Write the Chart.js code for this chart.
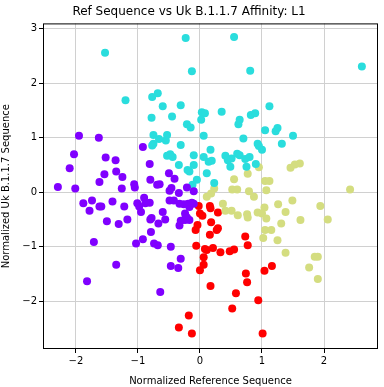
<!DOCTYPE html>
<html>
<head>
<meta charset="utf-8">
<script src="https://cdn.jsdelivr.net/npm/chart.js@4"></script>
<style>
  html, body { margin: 0; padding: 0; background: #fff; }
  #wrap { width: 384px; height: 387px; }
</style>
</head>
<body>
<div id="wrap"><canvas id="c"></canvas></div>
<script>
// cluster points (x = reference, y = Uk B.1.1.7)
const purpleX = [-1.95,-1.63,-2.03,-2.10,-1.52,-1.36,-1.54,-1.35,-1.25,-1.62,-0.92,-0.81,-0.50,-0.41,-0.80,-1.06,-1.05,-1.26,-0.69,-0.65,-0.46,-0.49,-0.21,-0.34,-0.10,-2.29,-2.01,
  -1.88,-1.74,-1.78,-1.62,-1.59,-1.41,-1.22,-1.50,-1.31,-1.17,-1.71,-1.35,-1.82,-1.01,-0.98,-0.95,-0.90,-0.88,-0.81,-0.78,-0.80,-0.67,-0.60,-0.56,-0.79,-0.92,-1.03,-0.74,-0.68,-0.47,-0.31,-0.47,-0.35,-0.64,
  -0.49,-0.42,-0.33,-0.26,-0.19,-0.13,-0.10,-0.24,-0.21,-0.24,-0.31,-0.33,-0.17,-0.17,-0.23];
const purpleY = [1.04,1.00,0.70,0.44,0.64,0.59,0.33,0.38,0.28,0.19,0.83,0.52,0.35,0.25,0.23,0.15,0.09,0.07,0.14,0.15,0.08,0.03,0.09,-0.01,0.02,0.10,0.07,
  -0.20,-0.15,-0.34,-0.26,-0.26,-0.17,-0.26,-0.53,-0.58,-0.50,-0.91,-1.33,-1.63,-0.20,-0.26,-0.36,-0.10,-0.20,-0.19,-0.47,-0.50,-0.57,-0.36,-0.50,-0.73,-0.86,-0.94,-0.94,-0.97,-1.00,-1.22,-1.35,-1.39,-1.83,
  -0.15,-0.15,-0.21,-0.22,-0.21,-0.19,-0.21,-0.39,-0.46,-0.51,-0.52,-0.61,-0.51,-0.27,-0.45];

const cyanX = [-0.23,-0.13,-1.53,-1.20,-0.68,-0.77,-0.60,-0.31,-0.78,-0.45,0.03,0.08,0.02,-0.21,-0.15,0.06,-0.75,-0.53,-0.66,-0.55,-0.75,-0.77,-0.31,-0.48,-0.53,-0.44,-0.10,0.06,-0.34,-0.10,-0.20,-0.17,-0.05,0.11,0.14,0.17,-0.12,
  0.55,0.81,2.61,0.35,1.12,0.82,0.89,0.64,0.62,1.05,1.22,1.25,1.50,0.70,1.32,0.93,0.95,1.00,0.19,0.41,0.45,0.51,0.60,0.64,0.73,0.80,0.90,0.49,0.75,0.23];
const cyanY = [2.83,2.22,2.56,1.69,1.82,1.75,1.58,1.60,1.37,1.39,1.47,1.45,1.33,1.25,1.19,1.04,1.05,1.05,0.98,0.95,0.89,0.86,0.87,0.70,0.67,0.65,0.68,0.65,0.50,0.50,0.41,0.38,0.23,0.35,0.56,0.78,0.14,
  2.85,2.23,2.31,1.48,1.58,1.42,1.45,1.33,1.25,1.14,1.12,1.18,1.04,0.99,0.89,0.89,0.85,0.78,0.58,0.67,0.59,0.62,0.71,0.68,0.61,0.65,0.52,0.47,0.47,0.17];

const yellowX = [0.95,0.77,0.55,1.46,1.53,1.61,1.05,1.12,2.42,0.52,0.60,0.79,1.07,0.23,0.18,0.11,0.87,1.49,0.37,0.41,0.51,0.61,0.76,0.77,0.93,1.00,1.04,1.07,1.26,1.38,1.31,1.62,1.94,2.06,1.05,1.15,1.02,1.25,1.38,1.85,1.90,1.76,1.90];
const yellowY = [0.46,0.34,0.24,0.45,0.51,0.53,0.21,0.21,0.05,0.05,0.05,0.02,0.04,0.07,-0.02,-0.08,-0.08,-0.15,-0.21,-0.34,-0.34,-0.42,-0.40,-0.46,-0.37,-0.39,-0.28,-0.48,-0.22,-0.36,-0.57,-0.51,-0.25,-0.50,-0.69,-0.69,-0.84,-0.88,-1.11,-1.18,-1.18,-1.38,-1.59];

const redX = [-0.02,0.16,0.17,0.29,0.00,0.04,0.18,-0.04,-0.07,0.27,0.29,0.16,0.73,0.77,-0.06,0.08,0.11,0.21,0.33,0.48,0.55,0.06,0.06,0.00,1.16,1.04,0.74,0.76,0.17,0.58,0.94,0.52,1.01,-0.18,-0.34,-0.13];
const redY = [-0.25,-0.25,-0.29,-0.37,-0.39,-0.43,-0.55,-0.60,-0.69,-0.69,-0.66,-0.78,-0.81,-0.97,-0.98,-1.04,-1.06,-1.02,-1.10,-1.08,-1.05,-1.19,-1.33,-1.43,-1.35,-1.44,-1.49,-1.65,-1.72,-1.85,-1.98,-2.13,-2.59,-2.26,-2.48,-2.59];

const xTicks = [-2, -1, 0, 1, 2];
const yTicks = [-2, -1, 0, 1, 2, 3];

const pts = (xs, ys) => xs.map((x, i) => ({ x, y: ys[i] }));
const minus = v => String(v).replace('-', '\u2212');

const frame = {
    id: 'frame',
    afterDraw(chart) {
        const { ctx, chartArea: a } = chart;
        ctx.save();
        ctx.strokeStyle = '#000';
        ctx.lineWidth = 1;
        ctx.strokeRect(a.left + 0.5, a.top + 0.5, a.right - a.left - 1, a.bottom - a.top - 1);
        ctx.restore();
    }
};

const series = [
    { data: pts(purpleX, purpleY), color: '#8000ff' },
    { data: pts(cyanX, cyanY), color: '#2adddd' },
    { data: pts(yellowX, yellowY), color: '#d4dd80' },
    { data: pts(redX, redY), color: '#ff0000' }
];

Chart.defaults.font.family = '"DejaVu Sans", sans-serif';
Chart.defaults.color = '#000';

new Chart(document.getElementById('c'), {
    type: 'scatter',
    data: {
        datasets: series.map(s => ({
            data: s.data,
            backgroundColor: s.color,
            borderWidth: 0,
            pointRadius: 4,
            pointHoverRadius: 4
        }))
    },
    options: {
        responsive: true,
        maintainAspectRatio: false,
        animation: false,
        layout: { padding: { left: 0, right: 6, top: 0, bottom: 0 } },
        plugins: {
            legend: { display: false },
            tooltip: { enabled: false },
            title: {
                display: true,
                text: 'Ref Sequence vs Uk B.1.1.7 Affinity: L1',
                font: { size: 12, weight: 'normal' },
                padding: { top: 5, bottom: 4 }
            }
        },
        scales: {
            x: {
                min: -2.53,
                max: 2.87,
                afterBuildTicks: s => { s.ticks = xTicks.map(v => ({ value: v })); },
                afterFit: s => { s.height = 38; },
                ticks: { font: { size: 10 }, padding: 2, callback: v => minus(v) },
                grid: { color: '#d0d0d0', tickColor: '#000', tickLength: 4 },
                border: { display: false },
                title: { display: true, text: 'Normalized Reference Sequence', font: { size: 10 }, padding: { top: 2, bottom: 0 } }
            },
            y: {
                min: -2.875,
                max: 3.10,
                afterBuildTicks: s => { s.ticks = yTicks.map(v => ({ value: v })); },
                afterFit: s => { s.width = 43; },
                ticks: { font: { size: 10 }, padding: 2, callback: v => minus(v) },
                grid: { color: '#d0d0d0', tickColor: '#000', tickLength: 4 },
                border: { display: false },
                title: { display: true, text: 'Normalized Uk B.1.1.7 Sequence', font: { size: 10 }, padding: { top: 0, bottom: 2 } }
            }
        }
    },
    plugins: [frame]
});
</script>
</body>
</html>
